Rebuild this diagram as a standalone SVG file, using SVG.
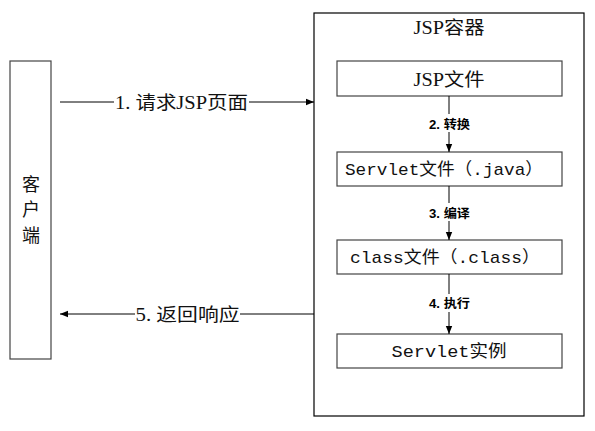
<svg xmlns="http://www.w3.org/2000/svg" width="595" height="431" viewBox="0 0 595 431">
<defs>
<marker id="ah" viewBox="0 0 10 10" refX="10" refY="5" markerWidth="8" markerHeight="8" markerUnits="userSpaceOnUse" orient="auto">
<path d="M0,1 L10,5 L0,9 Z" fill="#000"/>
</marker>
<style>
.box{fill:#fff;stroke:#444;stroke-width:1.2}
.cont{fill:#fff;stroke:#000;stroke-width:1.2}
.t{font-family:"Liberation Serif","Noto Sans CJK SC",serif;font-size:18px;fill:#111;text-anchor:middle}
.m{font-family:"Liberation Mono","Noto Sans CJK SC",monospace;font-size:17px;fill:#111;text-anchor:middle}
.s{font-family:"Liberation Sans","Noto Sans CJK SC",sans-serif;font-size:12px;font-weight:bold;fill:#000;text-anchor:middle}
.ln{stroke:#000;stroke-width:1;fill:none}
</style>
</defs>
<g id="client">
<rect class="box" x="10" y="61" width="41" height="298"/>
<text class="t" x="31" y="191">客</text>
<text class="t" x="31" y="216">户</text>
<text class="t" x="31" y="242">端</text>
</g>
<g id="container">
<rect class="cont" x="314" y="13" width="270" height="403"/>
<text class="t" x="449" y="34" textLength="71" lengthAdjust="spacingAndGlyphs">JSP容器</text>
</g>
<g id="jsp">
<rect class="box" x="337" y="61" width="225" height="35"/>
<text class="t" x="449" y="86" textLength="71" lengthAdjust="spacingAndGlyphs">JSP文件</text>
</g>
<g id="servletfile">
<rect class="box" x="337" y="152" width="225" height="34"/>
<text class="m" x="444" y="175" textLength="198" lengthAdjust="spacingAndGlyphs">Servlet文件（.java）</text>
</g>
<g id="classfile">
<rect class="box" x="337" y="240" width="225" height="34"/>
<text class="m" x="445" y="263" textLength="190" lengthAdjust="spacingAndGlyphs">class文件（.class）</text>
</g>
<g id="instance">
<rect class="box" x="337" y="334" width="225" height="34"/>
<text class="m" x="449" y="357" textLength="115" lengthAdjust="spacingAndGlyphs">Servlet实例</text>
</g>
<g id="connectors">
<line class="ln" x1="60" y1="102" x2="114" y2="102"/>
<line class="ln" x1="249" y1="102" x2="314" y2="102" marker-end="url(#ah)"/>
<text class="t" x="181.5" y="109" textLength="133" lengthAdjust="spacingAndGlyphs">1. 请求JSP页面</text>
<line class="ln" x1="135" y1="314" x2="60" y2="314" marker-end="url(#ah)"/>
<line class="ln" x1="314" y1="314" x2="240" y2="314"/>
<text class="t" x="187.5" y="321" textLength="104" lengthAdjust="spacingAndGlyphs">5. 返回响应</text>
<line class="ln" x1="449" y1="96" x2="449" y2="114"/>
<line class="ln" x1="449" y1="132" x2="449" y2="152" marker-end="url(#ah)"/>
<text class="s" x="449.5" y="129" textLength="41" lengthAdjust="spacingAndGlyphs">2. 转换</text>
<line class="ln" x1="449" y1="186" x2="449" y2="203"/>
<line class="ln" x1="449" y1="221" x2="449" y2="240" marker-end="url(#ah)"/>
<text class="s" x="449.5" y="218" textLength="41" lengthAdjust="spacingAndGlyphs">3. 编译</text>
<line class="ln" x1="449" y1="274" x2="449" y2="294"/>
<line class="ln" x1="449" y1="312" x2="449" y2="334" marker-end="url(#ah)"/>
<text class="s" x="449.5" y="308" textLength="41" lengthAdjust="spacingAndGlyphs">4. 执行</text>
</g>
</svg>
